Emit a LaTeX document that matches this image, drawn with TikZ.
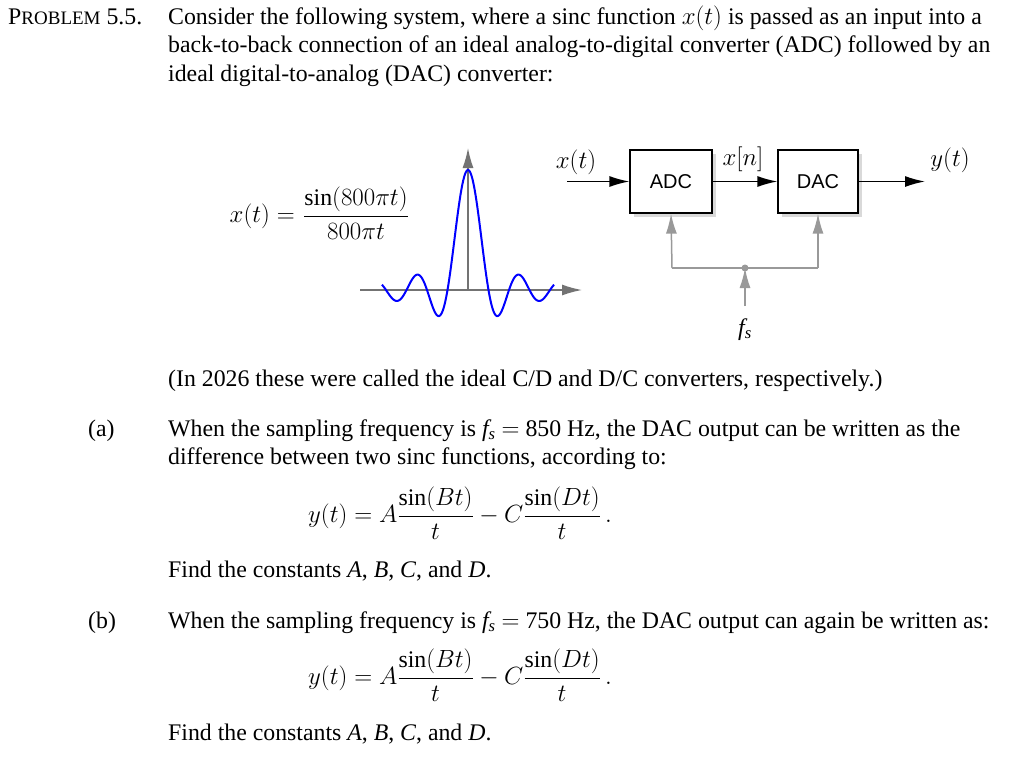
\documentclass[tikz,border=0pt]{standalone}
\usepackage{fontspec}
\setmainfont{Liberation Serif}
\newfontfamily\hsf{Liberation Sans}
\usetikzlibrary{arrows.meta}
\begin{document}
\begin{tikzpicture}[x=1pt,y=-1pt,
  txt/.style={anchor=base west,inner sep=0pt,font=\fontsize{23.8}{28}\selectfont},
  blk/.style={draw,line width=1.2pt,minimum width=82pt,minimum height=63pt,fill=white,font=\hsf\fontsize{20}{22}\selectfont},
  sh/.style={fill=black!15,draw=none},
  arr/.style={line width=1.5pt,-{Latex[length=20pt,width=11pt]}},
  garr/.style={draw=black!40,line width=1.5pt,-{Latex[length=20pt,width=11pt]},black!40}]
\useasboundingbox (0,0) rectangle (1024,758);
\node[txt] (p) at (8,24) {P{\fontsize{19}{22}\selectfont ROBLEM} 5.5.};
\node[txt] (l1) at (168,24) {Consider the following system, where a sinc function $x(t)$ is passed as an input into a};
\node[txt] (l2) at (168,52) {back-to-back connection of an ideal analog-to-digital converter (ADC) followed by an};
\node[txt] (l3) at (168,81) {ideal digital-to-analog (DAC) converter:};
% formula
\node[txt,anchor=base east] (xt) at (295,222) {$x(t)=$};
\node[txt,anchor=center] (fr) at (356,213) {$\displaystyle\frac{\sin(800\pi t)}{800\pi t}$};
% sinc plot
\draw[black!55,line width=1.4pt,-{Latex[length=20pt,width=11pt]}] (360,290) -- (582,290);
\draw[black!55,line width=1.4pt,-{Latex[length=20pt,width=11pt]}] (468,290) -- (468,148);
\draw[blue,line width=2pt,domain=-4.2:4.2,samples=200,smooth] plot ({468+20.5*\x},{290-120*(abs(\x)<0.001 ? 1 : sin(180*\x)/(pi*\x))});
% blocks
\fill[sh] (634,154) rectangle (716,217);
\fill[sh] (782,154) rectangle (862,217);
\node[blk] (adc) at (671,181.5) {ADC};
\node[blk,minimum width=80pt] (dac) at (818,181.5) {DAC};
\coordinate (in) at (567,181.5);
\coordinate (out) at (925,181.5);
\draw[arr] (in) -- (adc);
\draw[arr] (adc) -- (dac);
\draw[arr] (dac) -- (out);
\node[txt,anchor=base] (xtl) at (576,168) {$x(t)$};
\node[txt,anchor=base] (xnl) at (743,165) {$x[n]$};
\node[txt,anchor=base] (ytl) at (950,166) {$y(t)$};
\coordinate (j) at (745,268);
\coordinate (jl) at (672,268);
\coordinate (jr) at (818,268);
\coordinate (fs) at (745,306);
\draw[black!40,line width=1.5pt] (jl) -- (jr);
\draw[garr] (jl) -- (adc.south);
\draw[garr] (jr) -- (dac.south);
\draw[garr] (fs) -- (j);
\fill[black!40] (j) circle (3.5pt);
\node[txt,anchor=base] (fsl) at (745,335) {\textit{f\textsubscript{s}}};
% text
\node[txt] (n) at (168,386) {(In 2026 these were called the ideal C/D and D/C converters, respectively.)};
\node[txt] (a) at (88,436) {(a)};
\node[txt] (a1) at (168,436) {When the sampling frequency is \textit{f\textsubscript{s}} $=$ 850 Hz, the DAC output can be written as the};
\node[txt] (a2) at (168,464) {difference between two sinc functions, according to:};
\node[txt] (ea) at (308,522) {$y(t) = A\displaystyle\frac{\sin(Bt)}{t} - C\frac{\sin(Dt)}{t}\,.$};
\node[txt] (a3) at (168,577) {Find the constants \textit{A}, \textit{B}, \textit{C}, and \textit{D}.};
\node[txt] (b) at (88,628) {(b)};
\node[txt] (b1) at (168,628) {When the sampling frequency is \textit{f\textsubscript{s}} $=$ 750 Hz, the DAC output can again be written as:};
\node[txt] (eb) at (308,684) {$y(t) = A\displaystyle\frac{\sin(Bt)}{t} - C\frac{\sin(Dt)}{t}\,.$};
\node[txt] (b3) at (168,740) {Find the constants \textit{A}, \textit{B}, \textit{C}, and \textit{D}.};
\end{tikzpicture}
\end{document}
